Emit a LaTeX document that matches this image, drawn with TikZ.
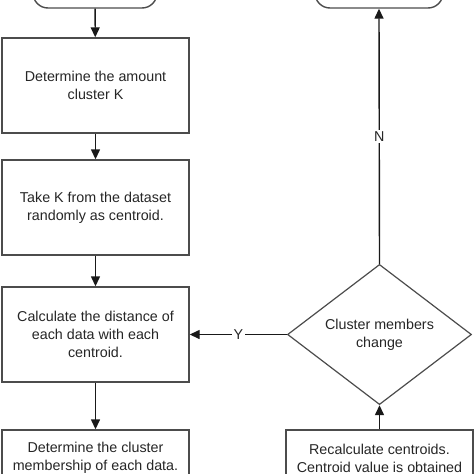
\documentclass[tikz,border=0pt]{standalone}
\usepackage{fontspec}
\setmainfont{Liberation Sans}
\usetikzlibrary{shapes.geometric,arrows.meta}
\tikzset{
  base/.style={font={\fontsize{14.3pt}{18pt}\selectfont}, text=black!85, align=center},
  procbox/.style={base, draw=black!70, line width=1.4pt, rectangle, minimum width=187pt, minimum height=95pt, inner sep=0pt},
  term/.style={draw=black!70, line width=1.4pt, rectangle, rounded corners=15pt, minimum height=44pt, inner sep=0pt},
  decision/.style={base, draw=black!70, line width=1.2pt, diamond, minimum width=184pt, minimum height=115pt, inner sep=0pt},
  flow/.style={draw=black!90, line width=1.4pt, -{Triangle[length=10pt,width=9pt]}},
  lbl/.style={base, fill=white, inner sep=1.5pt}
}
\begin{document}
\begin{tikzpicture}[x=1pt,y=-1pt]
\useasboundingbox (0,0) rectangle (474,474);
\fill[white] (0,0) rectangle (474,474);
\node[term, minimum width=124pt] (t1) at (95,-14) {};
\node[term, minimum width=128pt] (t2) at (379,-14) {};
\node[procbox] (b1) at (95.5,85.5) {Determine the amount\\cluster K};
\node[procbox] (b2) at (95.5,207.5) {Take K from the dataset\\randomly as centroid.};
\node[procbox] (b3) at (95.5,334.5) {Calculate the distance of\\each data with each\\centroid.};
\node[procbox, minimum height=120pt] (b4) at (95.5,490) {};
\node[base] (b4text) at (95.5,458) {Determine the cluster\\membership of each data.};
\node[procbox, minimum height=120pt] (b5) at (379.5,490) {};
\node[base] (b5text) at (379.5,458) {Recalculate centroids.\\Centroid value is obtained};
\node[decision] (d) at (379.5,334.5) {Cluster members\\change};
\draw[flow] (t1) -- (b1);
\draw[flow] (b1) -- (b2);
\draw[flow] (b2) -- (b3);
\draw[flow] (b3) -- (b4);
\draw[flow] (b5) -- (d);
\draw[flow] (d.north) -- node[lbl, midway] (nlab) {N} (t2.south);
\draw[flow] (d.west) -- node[lbl, midway] (ylab) {Y} (b3.east);
\end{tikzpicture}
\end{document}
